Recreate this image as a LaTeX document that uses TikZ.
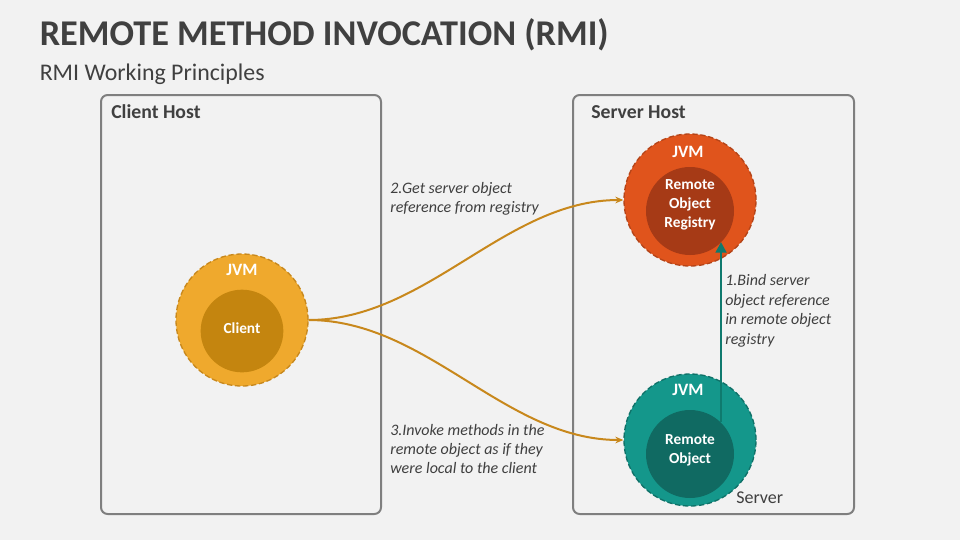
\documentclass[tikz,border=0pt]{standalone}
\usepackage{fontspec}
\setmainfont{Carlito}
\usetikzlibrary{arrows.meta}
\definecolor{bg}{HTML}{F2F2F2}
\definecolor{titlec}{HTML}{404040}
\definecolor{txt}{HTML}{3F3F3F}
\definecolor{boxc}{HTML}{7F7F7F}
\definecolor{yel}{HTML}{EFA92D}
\definecolor{yelb}{HTML}{C8881C}
\definecolor{yelin}{HTML}{C4850F}
\definecolor{ora}{HTML}{E0541C}
\definecolor{orab}{HTML}{B54418}
\definecolor{orain}{HTML}{A63A16}
\definecolor{tea}{HTML}{14978B}
\definecolor{teab}{HTML}{0F7168}
\definecolor{teain}{HTML}{106A62}
\definecolor{arrc}{HTML}{C8881C}
\definecolor{teaarr}{HTML}{0F7A6E}
\tikzset{
  hostbox/.style={draw=boxc, line width=1.5pt, rounded corners=5pt, fill=bg},
  jvm/.style={circle, minimum size=99pt, inner sep=0pt, line width=1pt, dash pattern=on 4pt off 2pt},
  inner/.style={circle, inner sep=0pt},
  intext/.style={font=\fontsize{11.5}{14.3}\selectfont\bfseries, text=white, align=center, inner sep=0pt},
  jvmlbl/.style={font=\fontsize{13}{15}\selectfont\bfseries, text=white},
  hostlbl/.style={anchor=west, inner sep=0pt, text=titlec, font=\fontsize{14.8}{17}\selectfont\bfseries},
  note/.style={font=\fontsize{12}{14.6}\selectfont\itshape, text=txt, align=left, anchor=west, inner sep=0pt},
  flow/.style={draw=arrc, line width=1.5pt, -{Stealth[length=6pt,width=5pt]}},
}
\begin{document}
\begin{tikzpicture}[x=0.75pt,y=-0.75pt]
\useasboundingbox[fill=bg] (0,0) rectangle (960,540);
\node[anchor=west, inner sep=0pt, text=titlec, font=\fontsize{27.2}{32}\selectfont\bfseries] (title) at (39.5,35) {REMOTE METHOD INVOCATION (RMI)};
\node[anchor=west, inner sep=0pt, text=titlec, font=\fontsize{17.9}{20}\selectfont] (sub) at (39.5,74) {RMI Working Principles};
\draw[hostbox] (101,95) rectangle (381,514);
\draw[hostbox] (573,95) rectangle (854,514);
\node[hostlbl] (ch) at (111,112) {Client Host};
\node[hostlbl] (sh) at (591,112) {Server Host};
% client JVM
\node[jvm, fill=yel, draw=yelb] (cjvm) at (242,320) {};
\node[inner, fill=yelin, minimum size=62pt] (cin) at (242,331) {};
\node[intext] (ct) at (242,328) {Client};
\node[jvmlbl] (cjl) at (242,270) {JVM};
% registry JVM
\node[jvm, fill=ora, draw=orab] (rjvm) at (690,200) {};
\node[inner, fill=orain, minimum size=66pt] (rin) at (690,211) {};
\node[intext] (rt) at (690,205) {Remote\\Object\\Registry};
\node[jvmlbl] (rjl) at (688,152) {JVM};
% server JVM
\node[jvm, fill=tea, draw=teab] (sjvm) at (690,440) {};
\node[inner, fill=teain, minimum size=66pt] (sin) at (690,454) {};
\node[intext] (st) at (690,450.5) {Remote\\Object};
\node[jvmlbl] (sjl) at (688,390) {JVM};
\node[anchor=west, inner sep=0pt, text=txt, font=\fontsize{13.5}{15}\selectfont] (srv) at (736,498) {Server};
% arrows
\draw[flow] (cjvm.east) to[out=0,in=180,looseness=0.9] (rjvm.west);
\draw[flow] (cjvm.east) to[out=0,in=180,looseness=0.9] (sjvm.west);
\coordinate (b1) at (721,422);
\coordinate (b2) at (721,242);
\draw[draw=teaarr, line width=2.2pt, -{Triangle[length=8pt,width=8pt]}] (b1) -- (b2);
% notes
\node[note] (n2) at (390,199) {2.Get server object\\reference from registry};
\node[note] (n3) at (390,449) {3.Invoke methods in the\\remote object as if they\\were local to the client};
\node[note] (n1) at (725,311) {1.Bind server\\object reference\\in remote object\\registry};
\end{tikzpicture}
\end{document}
